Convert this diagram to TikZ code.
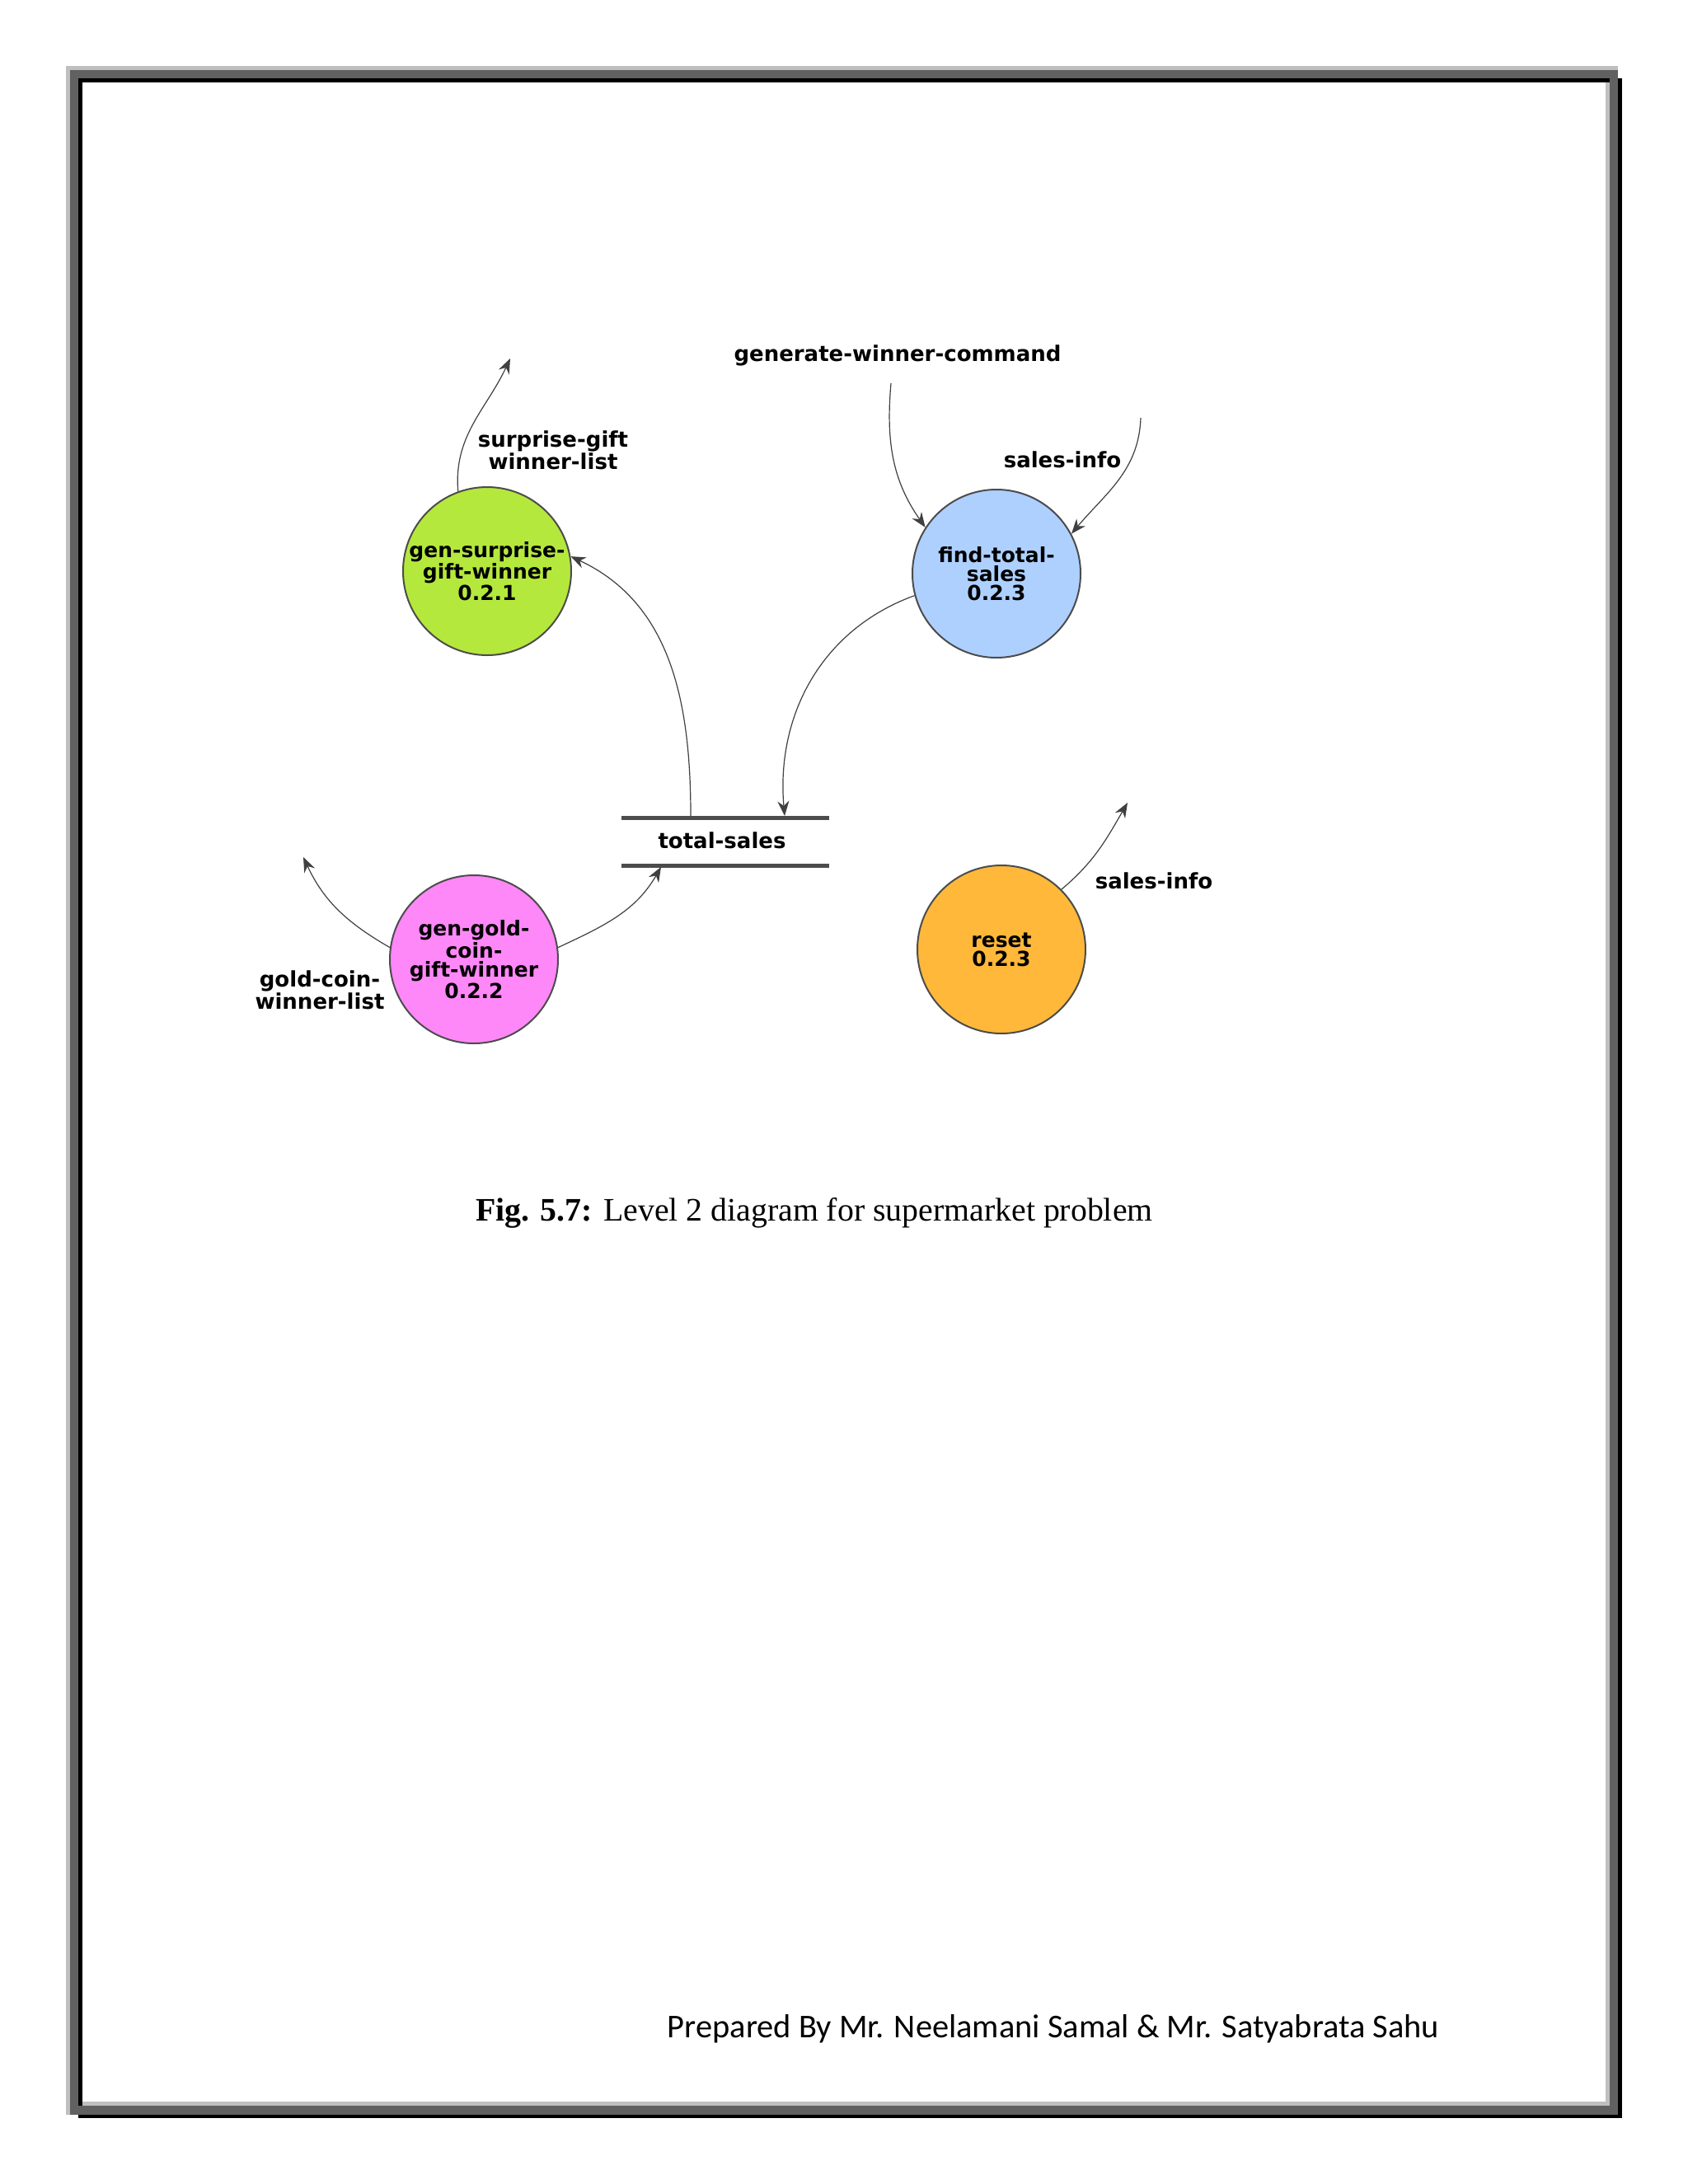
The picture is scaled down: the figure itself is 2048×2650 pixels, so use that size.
\documentclass[tikz,border=0pt]{standalone}
\usetikzlibrary{arrows.meta}
\usepackage{fontspec}
\setmainfont{Liberation Serif}
\newfontfamily\dfd{DejaVu Sans}
\newfontfamily\foot{Carlito}
\begin{document}
\begin{tikzpicture}[x=0.5pt,y=-0.5pt,
  proc/.style={circle,draw=black!70,line width=1pt,minimum size=102pt,inner sep=0pt,align=center,font=\dfd\bfseries\fontsize{12.5}{11.5}\selectfont},
  lbl/.style={align=center,font=\dfd\bfseries\fontsize{13}{11.5}\selectfont},
  flow/.style={draw=black!75,line width=0.6pt,-{Stealth[length=9pt,width=7pt]}}]
\useasboundingbox (0,0) rectangle (2048,2650);
\fill[white] (0,0) rectangle (2048,2650);
\fill[black] (95,95) rectangle (1968,2570);
\fill[black!62] (85,85) rectangle (1963,2566);
\fill[black!25] (80,80) rectangle (1963,85);
\fill[black!25] (80,80) rectangle (85,2566);
\fill[black] (95,95) rectangle (1953,2555);
\fill[black!25] (100,100) rectangle (1953,2555);
\fill[white] (100,100) rectangle (1948,2550);

\node[proc,fill={rgb,255:red,181;green,232;blue,60}] (g) at (591,693) {gen-surprise-\\gift-winner\\0.2.1};
\node[proc,fill={rgb,255:red,174;green,208;blue,255}] (f) at (1209,696) {find-total-\\sales\\0.2.3};
\node[proc,fill={rgb,255:red,255;green,136;blue,248}] (p) at (575,1164) {gen-gold-\\coin-\\gift-winner\\0.2.2};
\node[proc,fill={rgb,255:red,255;green,184;blue,58}] (r) at (1215,1152) {reset\\0.2.3};

\node[lbl] (ts) at (876,1020) {total-sales};
\coordinate (s1a) at (754,992); \coordinate (s1b) at (1006,992);
\coordinate (s2a) at (754,1050); \coordinate (s2b) at (1006,1050);
\draw[black!70,line width=2.5pt] (s1a) -- (s1b) (s2a) -- (s2b);
\coordinate (sin) at (952,990);
\coordinate (sout) at (838,990);
\coordinate (sbot) at (802,1052);

\node[lbl] (lsg) at (671,546) {surprise-gift\\winner-list};
\node[lbl] (lgw) at (1089,431) {generate-winner-command};
\node[lbl] (lsi) at (1289,558) {sales-info};
\node[lbl] (lgc) at (388,1201) {gold-coin-\\winner-list};
\node[lbl] (lsr) at (1400,1069) {sales-info};

\coordinate (e1) at (619,435);
\coordinate (e2a) at (1081,465);
\coordinate (e3a) at (1384,507);
\coordinate (e4) at (368,1040);
\coordinate (e5) at (1368,974);

\draw[flow] (g.110) to[out=95,in=245] (e1);
\draw[flow] (e2a) to[out=265,in=125] (f.147);
\draw[flow] (e3a) to[out=268,in=50] (f.28);
\draw[flow] (f.195) to[out=200,in=95] (sin);
\draw[flow] (sout) to[out=90,in=335] (g.10);
\draw[flow] (p.8) to[out=25,in=240] (sbot);
\draw[flow] (p.172) to[out=150,in=295] (e4);
\draw[flow] (r.45) to[out=40,in=240] (e5);

\node[font=\fontsize{19.9}{22}\selectfont] (cap) at (988,1472) {\textbf{Fig. 5.7:} Level 2 diagram for supermarket problem};
\node[font=\foot\fontsize{20.2}{22}\selectfont] (ft) at (1278,2462) {Prepared By Mr. Neelamani Samal \& Mr. Satyabrata Sahu};
\end{tikzpicture}
\end{document}
